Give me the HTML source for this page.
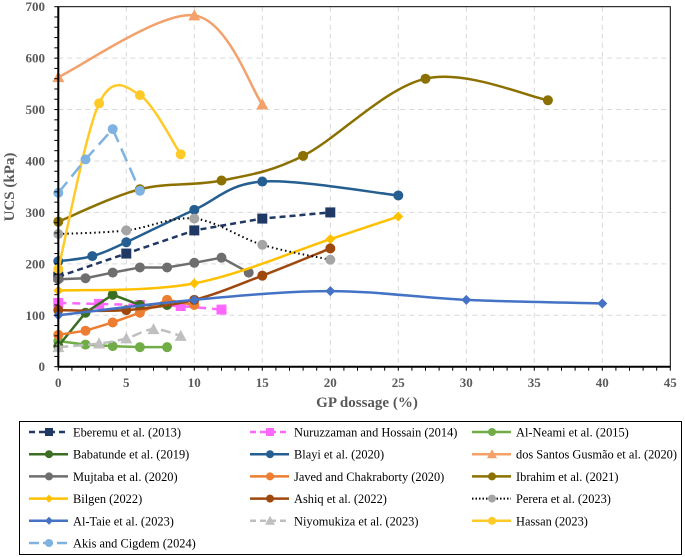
<!DOCTYPE html>
<html><head><meta charset="utf-8"><style>
html,body{margin:0;padding:0;background:#fff;}
svg{display:block;}
svg text{font-family:"Liberation Serif","Times New Roman",serif;}
</style></head><body>
<svg id="chart" width="685" height="557" viewBox="0 0 685 557" font-family="Liberation Serif, serif">
<g id="grid"></g>
<g id="series"></g>
<g id="axes"></g>
<text x="14" y="187" transform="rotate(-90 14 187)" text-anchor="middle" font-size="15" font-weight="bold" fill="#595959">UCS (kPa)</text>
<text x="367" y="407" text-anchor="middle" font-size="15" font-weight="bold" fill="#595959">GP dossage (%)</text>
<rect x="19.5" y="421.5" width="662" height="133" fill="none" stroke="#000" stroke-width="1"/>
<g id="legend"></g>
</svg>
<script>
const xTicks=[0,5,10,15,20,25,30,35,40,45];
const yTicks=[0,100,200,300,400,500,600,700];
const names=["Eberemu et al. (2013)","Nuruzzaman and Hossain (2014)","Al-Neami et al. (2015)","Babatunde et al. (2019)","Blayi et al. (2020)","dos Santos Gusmão et al. (2020)","Mujtaba et al. (2020)","Javed and Chakraborty (2020)","Ibrahim et al. (2021)","Bilgen (2022)","Ashiq et al. (2022)","Perera et al. (2023)","Al-Taie et al. (2023)","Niyomukiza et al. (2023)","Hassan (2023)","Akis and Cigdem (2024)"];
const xs0=[0,5,10,15,20], ys0=[175,220,265,288,300];
const xs1=[0,3,6,9,12], ys1=[124,122,120,118,111];
const xs2=[0,2,4,6,8], ys2=[50,43,40,38,38];
const xs3=[0,2,4,6,8], ys3=[40,105,140,120,120];
const xs4=[0,2.5,5,10,15,25], ys4=[205,215,242,305,360,333];
const xs5=[0,10,15], ys5=[563,683,510];
const xs6=[0,2,4,6,8,10,12,14], ys6=[170,172,183,193,193,202,212,183];
const xs7=[0,2,4,6,8,10], ys7=[62,70,86,105,130,120];
const xs8=[0,6,12,18,27,36], ys8=[282,345,362,410,560,518];
const xs9=[0,10,20,25], ys9=[148,162,248,292];
const xs10=[0,5,10,15,20], ys10=[110,110,130,177,230];
const xs11=[0,5,10,15,20], ys11=[258,265,288,237,208];
const xs12=[0,10,20,30,40], ys12=[100,130,147,130,123];
const xs13=[0,3,5,7,9], ys13=[38,45,55,73,60];
const xs14=[0,3,6,9], ys14=[190,512,528,413];
const xs15=[0,2,4,6], ys15=[338,403,462,342];
const XS=[xs0,xs1,xs2,xs3,xs4,xs5,xs6,xs7,xs8,xs9,xs10,xs11,xs12,xs13,xs14,xs15];
const YS=[ys0,ys1,ys2,ys3,ys4,ys5,ys6,ys7,ys8,ys9,ys10,ys11,ys12,ys13,ys14,ys15];
const styles=[
{c:"#203864",d:"6,4",m:"sq",sm:0},{c:"#FF66FF",d:"8,6",m:"sq",sm:0},{c:"#70AD47",d:"",m:"ci",sm:0},
{c:"#3B6E22",d:"",m:"ci",sm:0},{c:"#255E91",d:"",m:"ci",sm:1},{c:"#F4A06A",d:"",m:"tr",sm:1},
{c:"#6E6E6E",d:"",m:"ci",sm:0},{c:"#ED7D31",d:"",m:"ci",sm:0},{c:"#8C7000",d:"",m:"ci",sm:1},
{c:"#FFC000",d:"",m:"di",sm:1},{c:"#9E480E",d:"",m:"ci",sm:1},{c:"#000",d:"1.5,3",m:"ci",mc:"#A5A5A5",sm:1},
{c:"#4472C4",d:"",m:"di",sm:1},{c:"#BFBFBF",d:"10,5",m:"tr",sm:1},{c:"#FFCA28",d:"",m:"ci",sm:1},
{c:"#7EB2E0",d:"14,7",m:"ci",sm:0}];
const X0=58.3,XU=13.6,Y0=366.7,YU=0.5143;
const sx=v=>X0+v*XU, sy=v=>Y0-v*YU;
const NS="http://www.w3.org/2000/svg";
function mk(t,a,p){const e=document.createElementNS(NS,t);for(const k in a)e.setAttribute(k,a[k]);p.appendChild(e);return e;}
const grid=document.getElementById('grid'),axes=document.getElementById('axes'),ser=document.getElementById('series'),leg=document.getElementById('legend');
xTicks.forEach(t=>{if(t>0&&t<45){const l=mk('line',{x1:sx(t),x2:sx(t),y1:sy(700),y2:Y0,stroke:"#D9D9D9","stroke-dasharray":"5,4"},grid);

}
const tx=mk('text',{x:sx(t),y:387,"text-anchor":"middle","font-size":"13","font-weight":"bold",fill:"#595959"},axes);tx.textContent=t;

});
yTicks.forEach(t=>{if(t>0&&t<700){const l=mk('line',{x1:X0,x2:sx(45),y1:sy(t),y2:sy(t),stroke:"#D9D9D9","stroke-dasharray":"5,4"},grid);

}
const tx=mk('text',{x:45,y:sy(t)+4.5,"text-anchor":"end","font-size":"13","font-weight":"bold",fill:"#595959"},axes);tx.textContent=t;

});
for(let v=0;v<=700;v+=20)mk('line',{x1:X0-4,x2:X0,y1:sy(v),y2:sy(v),stroke:"#000"},axes);
for(let v=0;v<=45;v+=1)mk('line',{x1:sx(v),x2:sx(v),y1:Y0,y2:Y0+4,stroke:"#000"},axes);
const fr=mk('rect',{x:X0,y:sy(700),width:sx(45)-X0,height:Y0-sy(700),fill:"none",stroke:"#000","stroke-width":"1"},axes);


mk('line',{x1:X0,x2:X0,y1:sy(700),y2:Y0,stroke:"#000","stroke-width":"2"},axes);
mk('line',{x1:X0,x2:sx(45),y1:Y0,y2:Y0,stroke:"#000","stroke-width":"2"},axes);
function pathD(p,smooth){if(!smooth)return "M"+p.map(q=>q[0]+","+q[1]).join("L");
let d="M"+p[0][0]+","+p[0][1];for(let i=0;i<p.length-1;i++){const a=p[i-1]||p[i],b=p[i],c=p[i+1],e=p[i+2]||c;
d+=`C${b[0]+(c[0]-a[0])/6},${b[1]+(c[1]-a[1])/6} ${c[0]-(e[0]-b[0])/6},${c[1]-(e[1]-b[1])/6} ${c[0]},${c[1]}`;}return d;}
function marker(g,m,x,y,col,s){
if(m==="sq")return mk('rect',{x:x-s,y:y-s,width:2*s,height:2*s,fill:col},g);
if(m==="ci")return mk('circle',{cx:x,cy:y,r:s,fill:col},g);
if(m==="tr")return mk('polygon',{points:`${x},${y-s-1} ${x-s-1},${y+s} ${x+s+1},${y+s}`,fill:col},g);
return mk('polygon',{points:`${x},${y-s} ${x+s},${y} ${x},${y+s} ${x-s},${y}`,fill:col},g);}
const legTexts=[];
XS.forEach((xa,i)=>{const st=styles[i];const g=mk('g',{},ser);


const pts=xa.map((x,j)=>[sx(x),sy(YS[i][j])]);
const p=mk('path',{d:pathD(pts,st.sm),fill:"none",stroke:st.c,"stroke-width":st.c==="#000"?2:2.5,"stroke-dasharray":st.d},g);


pts.forEach(q=>{const m=marker(g,st.m,q[0],q[1],st.mc||st.c,5);

});
const col=i%3,row=Math.floor(i/3);const lx=[29,250,472][col],ly=432+row*22.2;
const lg=mk('g',{},leg);


mk('line',{x1:lx,x2:lx+39,y1:ly,y2:ly,stroke:st.c,"stroke-width":st.c==="#000"?2:2.5,"stroke-dasharray":st.d?(i===15?"10,4":st.d==="1.5,3"?"1.5,2":"6,4"):""},lg);
marker(lg,st.m,lx+20,ly,st.mc||st.c,4);
const t=mk('text',{x:lx+44,y:ly+4.5,"font-size":"13",fill:"#000"},lg);t.textContent=names[i];
legTexts.push(t);});
// uniformly compress legend text so "Eberemu et al. (2013)" is ~108px wide
const ref=legTexts[0].getComputedTextLength();
const k=ref>0?108/ref:1;
if(k<1)legTexts.forEach(t=>{const L=t.getComputedTextLength();t.setAttribute('textLength',(L*k).toFixed(1));t.setAttribute('lengthAdjust','spacingAndGlyphs');});
</script>
</body></html>
